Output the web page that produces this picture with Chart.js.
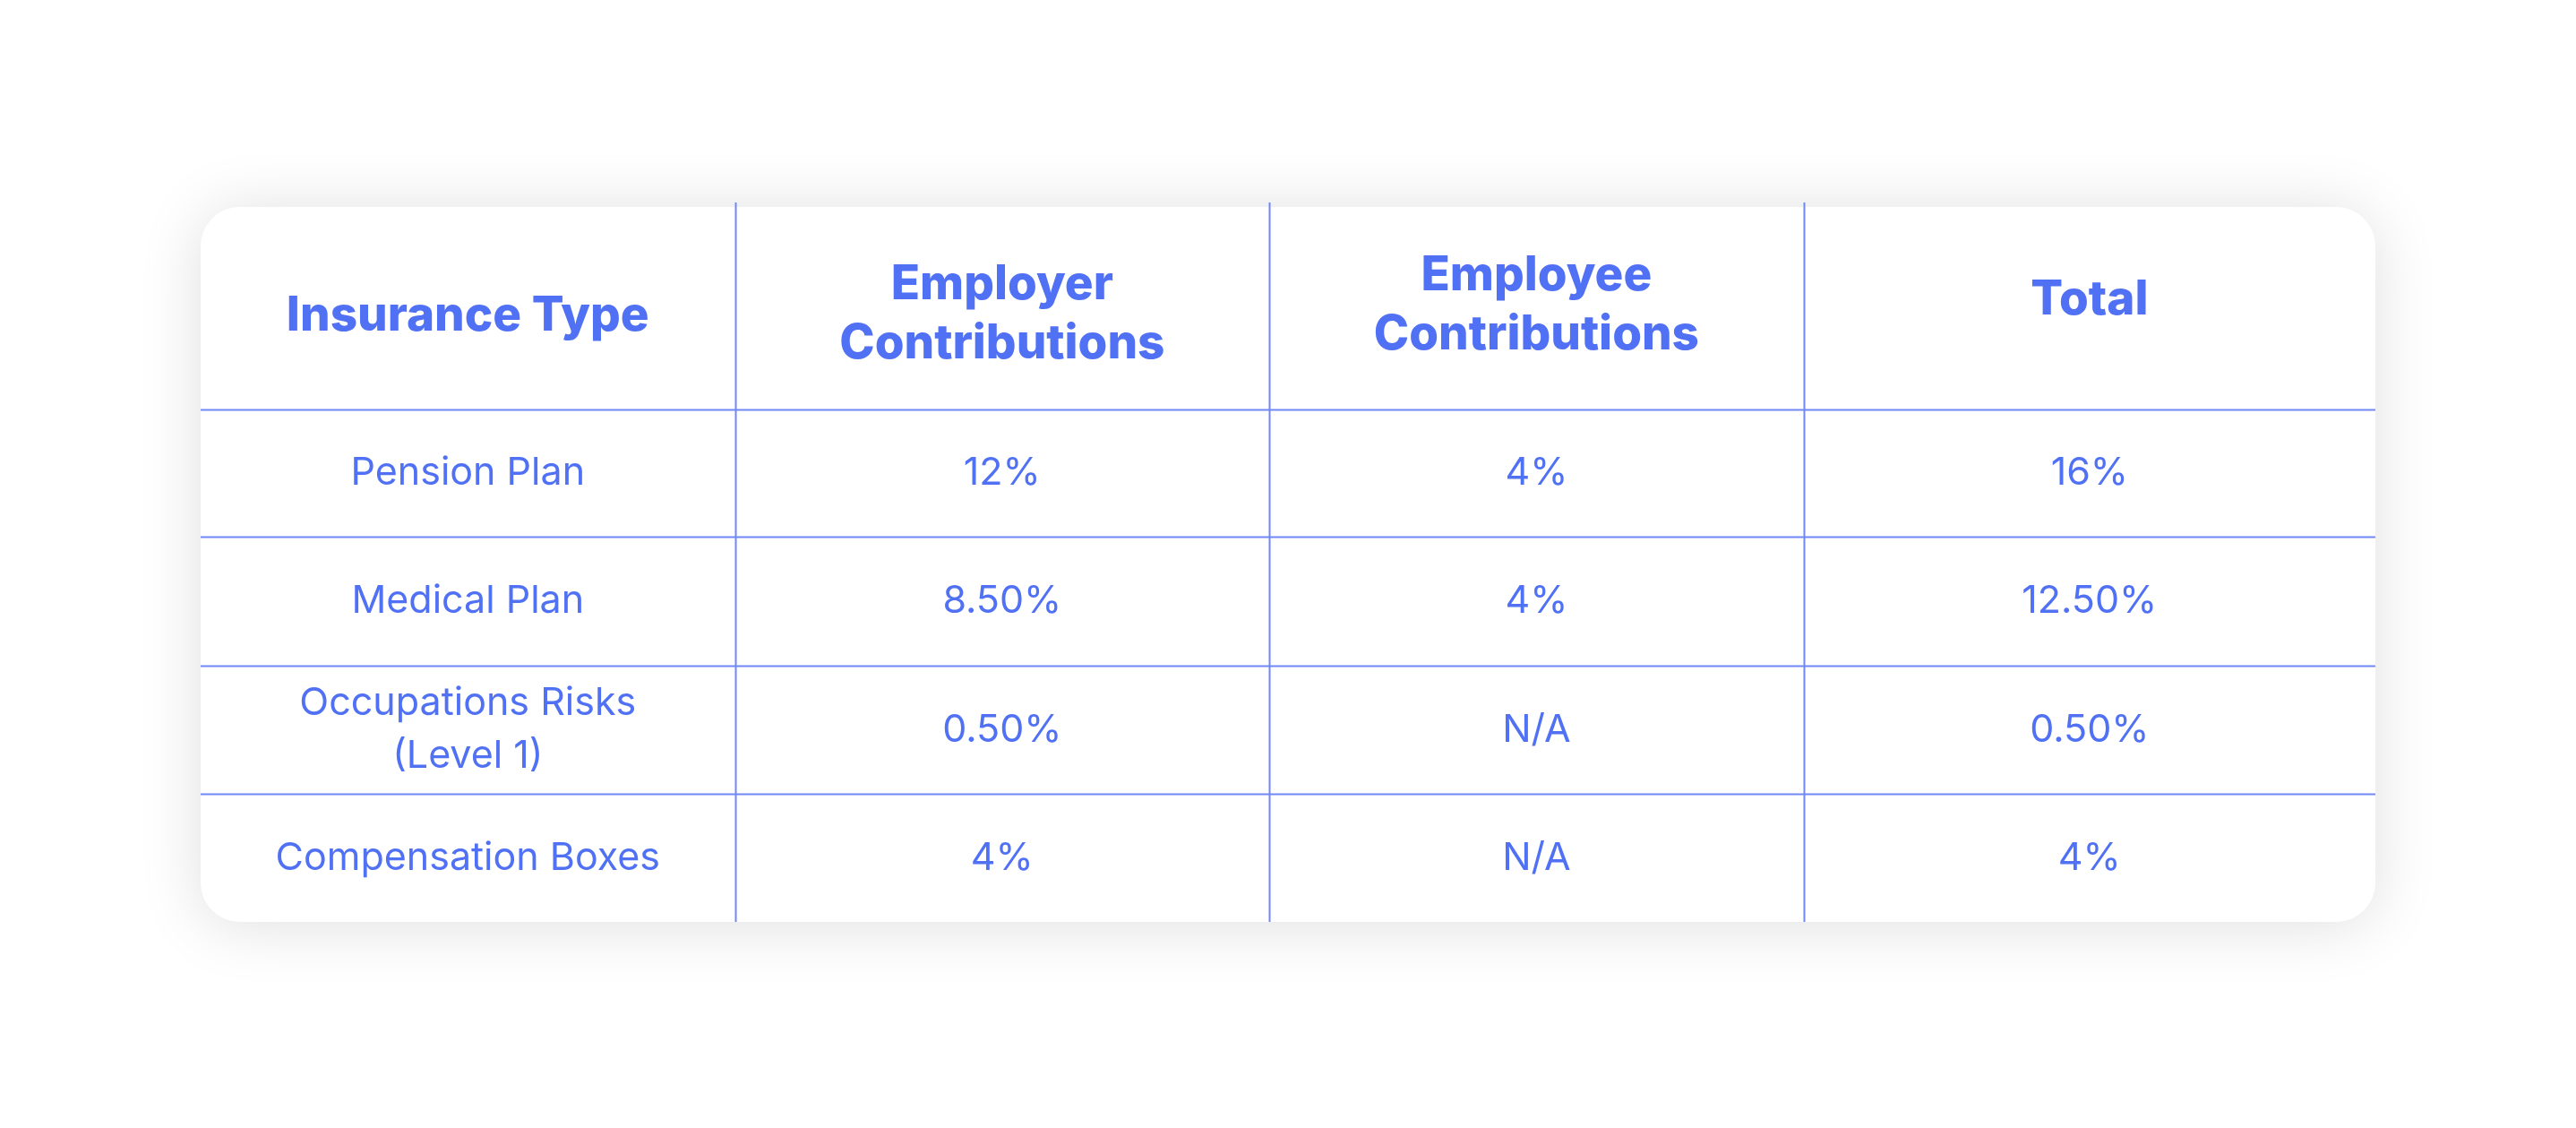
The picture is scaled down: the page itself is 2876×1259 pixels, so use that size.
<!DOCTYPE html>
<html><head><meta charset="utf-8">
<script src="https://cdn.jsdelivr.net/npm/chart.js@4"></script>
<style>html,body{margin:0;padding:0;background:#fff;}#wrap{width:2876px;height:1259px;}</style>
</head><body><div id="wrap"><canvas id="c" width="2876" height="1259"></canvas></div>
<script>
const headers = [["Insurance Type"], ["Employer", "Contributions"], ["Employee", "Contributions"], ["Total"]];
const insuranceTypes = [["Pension Plan"], ["Medical Plan"], ["Occupations Risks", "(Level 1)"], ["Compensation Boxes"]];
const employer = ["12%", "8.50%", "0.50%", "4%"];
const employee = ["4%", "4%", "N/A", "N/A"];
const totals = ["16%", "12.50%", "0.50%", "4%"];
const colEdges = [0, 1, 2, 3, 4.07];
const rowEdges = [0, 1.58, 2.58, 3.59, 4.59, 5.59];

const BLUE = '#5171f5', LINE = '#7088f6';
const headerShift = [9, 7, -3, -9];
const columns = [insuranceTypes, employer.map(s => [s]), employee.map(s => [s]), totals.map(s => [s])];
const cells = [];
headers.forEach((h, c) => cells.push({x: (colEdges[c] + colEdges[c+1]) / 2, y: rowEdges[1] / 2, lines: h, head: true, col: c}));
for (let c = 0; c < 4; c++) for (let r = 0; r < 4; r++)
  cells.push({x: (colEdges[c] + colEdges[c+1]) / 2, y: (rowEdges[r+1] + rowEdges[r+2]) / 2, lines: columns[c][r], head: false, col: c});

const tablePlugin = {
  id: 'table',
  beforeDatasetsDraw(chart) {
    const {ctx, chartArea: a, scales: {x, y}} = chart;
    ctx.save();
    const rr = 44;
    ctx.shadowColor = 'rgba(0,0,0,0.13)'; ctx.shadowBlur = 70; ctx.shadowOffsetY = 4;
    ctx.fillStyle = '#fff';
    ctx.beginPath(); ctx.roundRect(a.left, a.top, a.right - a.left, a.bottom - a.top, rr); ctx.fill();
    ctx.shadowColor = 'transparent';
    ctx.strokeStyle = LINE; ctx.lineWidth = 2;
    for (let i = 1; i < colEdges.length - 1; i++) {
      const px = Math.round(x.getPixelForValue(colEdges[i])) + 0.5;
      ctx.beginPath(); ctx.moveTo(px, a.top - 5); ctx.lineTo(px, a.bottom); ctx.stroke();
    }
    for (let j = 1; j < rowEdges.length - 1; j++) {
      const py = Math.round(y.getPixelForValue(rowEdges[j])) + 0.5;
      ctx.beginPath(); ctx.moveTo(a.left, py); ctx.lineTo(a.right, py); ctx.stroke();
    }
    ctx.fillStyle = BLUE; ctx.textAlign = 'center'; ctx.textBaseline = 'middle';
    cells.forEach(cl => {
      const px = x.getPixelForValue(cl.x);
      const py = y.getPixelForValue(cl.y) + (cl.head ? headerShift[cl.col] : 0);
      ctx.font = cl.head ? '800 53px Inter' : '400 43px Inter';
      const lh = cl.head ? 66 : 59;
      const n = cl.lines.length;
      cl.lines.forEach((t, k) => ctx.fillText(t, px, py + (k - (n - 1) / 2) * lh));
    });
    ctx.restore();
  }
};

new Chart(document.getElementById('c'), {
  type: 'scatter',
  data: {datasets: [{data: cells.map(c => ({x: c.x, y: c.y})), pointRadius: 0}]},
  options: {
    responsive: false, animation: false, devicePixelRatio: 1,
    layout: {padding: {left: 224, right: 224, top: 231, bottom: 230}},
    plugins: {legend: {display: false}, tooltip: {enabled: false}},
    scales: {
      x: {type: 'linear', min: colEdges[0], max: colEdges[colEdges.length-1], display: false},
      y: {type: 'linear', min: rowEdges[0], max: rowEdges[rowEdges.length-1], reverse: true, display: false}
    }
  },
  plugins: [tablePlugin]
});
</script></body></html>
